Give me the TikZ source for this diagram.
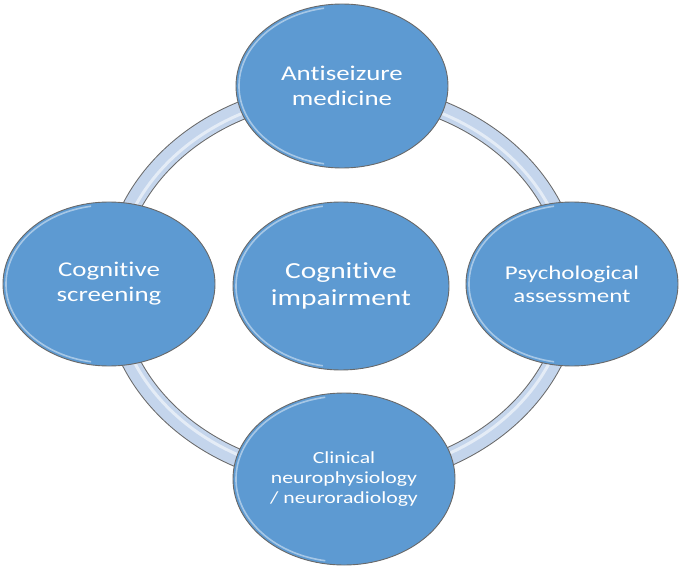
\documentclass[tikz,border=0pt]{standalone}
\usepackage{fontspec}
\newfontfamily\bubblefont{Carlito}[FakeStretch=1.28, Ligatures={NoCommon,NoContextual}, Contextuals=NoAlternate]
\usetikzlibrary{shapes.geometric}
\definecolor{bubbleblue}{RGB}{93,154,210}
\definecolor{ringblue}{RGB}{196,213,236}
\definecolor{rimgray}{RGB}{105,105,105}

\begin{document}
\begin{tikzpicture}[x=1pt, y=-1pt,
  bubble/.style={ellipse, draw=rimgray, line width=0.9pt, fill=bubbleblue, text=white,
    align=center, inner sep=0pt, minimum width=212pt, minimum height=164pt,
    font=\bubblefont\fontsize{21}{25}\selectfont},
  gloss/.style={white, opacity=0.45, line width=1.6pt}]
  \useasboundingbox (0,0) rectangle (685,572);
  % ring behind the bubbles
  \coordinate (hub) at (342,285);
  \draw[rimgray, line width=19pt] (hub) ellipse [x radius=230, y radius=194];
  \draw[ringblue, line width=17pt] (hub) ellipse [x radius=230, y radius=194];
  \draw[white, opacity=0.55, line width=3pt] (hub) ellipse [x radius=227, y radius=191];
  % bubbles
  \node[bubble] (med) at (342,86) {Antiseizure\\medicine};
  \node[bubble] (screen) at (109,284) {Cognitive\\screening};
  \node[bubble, font=\bubblefont\fontsize{19.5}{23}\selectfont] (psych) at (572,284) {Psychological\\assessment};
  \node[bubble, minimum width=222pt, minimum height=172pt, font=\bubblefont\fontsize{17}{20}\selectfont] (neuro) at (344,479) {Clinical\\neurophysiology\\/ neuroradiology};
  \node[bubble, minimum width=216pt, minimum height=168pt, font=\bubblefont\fontsize{23}{27}\selectfont] (impair) at (341,286) {Cognitive\\impairment};
  % highlight on the left rim of each bubble
  \foreach \n/\rx/\ry in {med/103/79, screen/103/79, psych/103/79, neuro/108/83, impair/105/81}
    \draw[gloss] (\n.center) ++(100:{\rx} and {\ry}) arc [start angle=100, end angle=260, x radius=\rx, y radius=\ry];
\end{tikzpicture}
\end{document}
